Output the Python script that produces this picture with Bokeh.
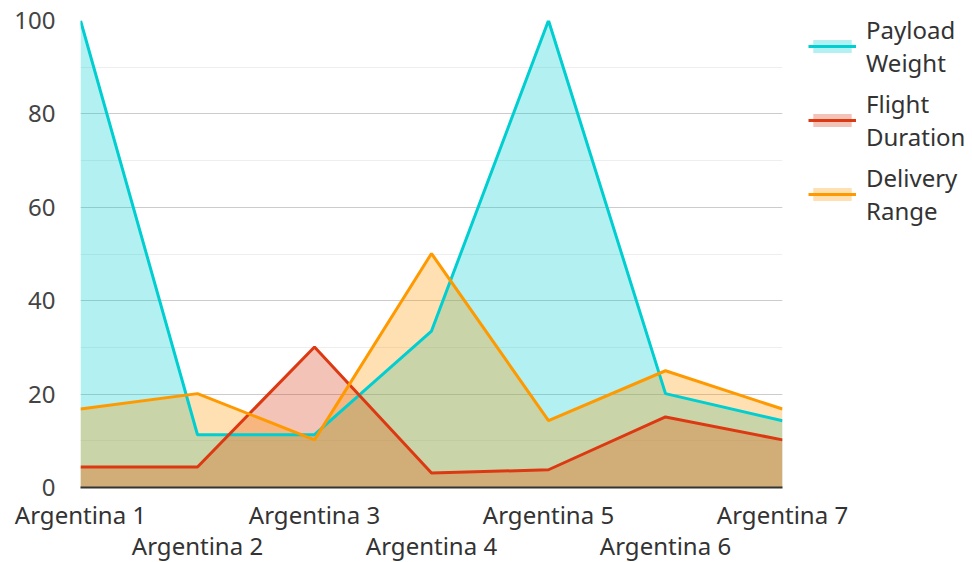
from bokeh.plotting import figure
from bokeh.models import ColumnDataSource, FixedTicker, Range1d, Legend, LegendItem
from bokeh.embed import file_html
from bokeh.resources import INLINE

categories = ["Argentina 1", "Argentina 2", "Argentina 3", "Argentina 4",
              "Argentina 5", "Argentina 6", "Argentina 7"]
payload_weight = [100, 11.3, 11.3, 33.5, 100, 20.1, 14.3]
flight_duration = [4.4, 4.4, 30.1, 3.1, 3.8, 15.1, 10.2]
delivery_range = [16.8, 20.1, 10.2, 50.1, 14.3, 25.0, 16.8]
series_names = ["Payload\nWeight", "Flight\nDuration", "Delivery\nRange"]
colors = ["#00CED1", "#DC3912", "#FF9900"]
y_ticks = [0, 20, 40, 60, 80, 100]

x = list(range(len(categories)))
src = ColumnDataSource(dict(x=x, pw=payload_weight, fd=flight_duration, dr=delivery_range))

FONT = "Noto Sans"
FS = "24px"
p = figure(frame_width=702, frame_height=467, output_backend="svg", toolbar_location=None,
           x_range=Range1d(0, len(categories) - 1), y_range=Range1d(0, 100),
           min_border_left=80, min_border_right=30, min_border_top=20, min_border_bottom=0)
p.outline_line_color = None
p.background_fill_color = "white"

keys = ["pw", "fd", "dr"]
areas = [p.varea(x="x", y1=0, y2=k, source=src, fill_color=c, fill_alpha=0.3)
         for k, c in zip(keys, colors)]
lines = [p.line(x="x", y=k, source=src, line_color=c, line_width=3)
         for k, c in zip(keys, colors)]
items = [LegendItem(label=n, renderers=[a, l]) for n, a, l in zip(series_names, areas, lines)]

# axes
p.xaxis.ticker = FixedTicker(ticks=x)
p.xaxis.major_label_overrides = {i: (c if i % 2 == 0 else "\n" + c) for i, c in enumerate(categories)}
p.xaxis.major_label_text_font = FONT
p.xaxis.major_label_text_font_size = FS
p.xaxis.major_label_text_color = "#333333"
p.xaxis.major_label_text_line_height = 0.95
p.xaxis.axis_line_color = "#333333"
p.xaxis.axis_line_width = 2
p.xaxis.major_tick_line_color = None
p.xaxis.minor_tick_line_color = None
p.xaxis.major_label_standoff = 4

p.yaxis.ticker = FixedTicker(ticks=y_ticks, minor_ticks=list(range(0, 101, 10)))
p.yaxis.major_label_text_font = FONT
p.yaxis.major_label_text_font_size = FS
p.yaxis.major_label_text_color = "#444444"
p.yaxis.axis_line_color = None
p.yaxis.major_tick_line_color = None
p.yaxis.minor_tick_line_color = None
p.yaxis.major_label_standoff = 19

p.xgrid.grid_line_color = None
p.ygrid.grid_line_color = "#cccccc"
p.ygrid.grid_line_width = 1
p.ygrid.minor_grid_line_color = "#eeeeee"

legend = Legend(items=items, location=(26, 260), orientation="vertical")
legend.label_text_font = FONT
legend.label_text_font_size = FS
legend.label_text_color = "#333333"
legend.label_text_line_height = 1.15
legend.glyph_width = 48
legend.glyph_height = 16
legend.label_standoff = 10
legend.spacing = 8
legend.padding = 0
legend.margin = 0
legend.border_line_color = None
legend.background_fill_alpha = 0
p.add_layout(legend, "right")

open("out.html", "w").write(file_html(p, INLINE))
